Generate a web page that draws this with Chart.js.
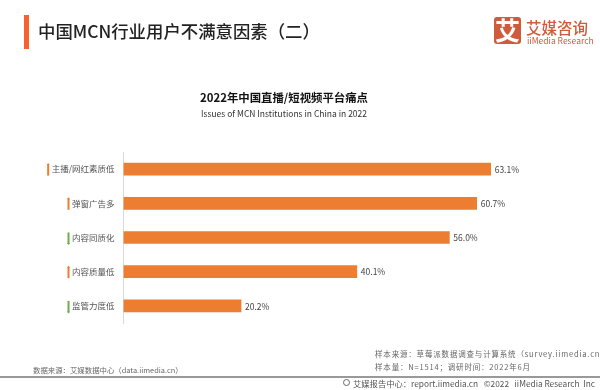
<!DOCTYPE html>
<html>
<head>
<meta charset="utf-8">
<script src="https://cdn.jsdelivr.net/npm/chart.js@4/dist/chart.umd.min.js"></script>
<style>
    html, body { margin: 0; padding: 0; background: #fff; }
    body { width: 600px; height: 390px; position: relative; overflow: hidden; font-family: "Noto Sans CJK SC", "Noto Sans", sans-serif; }
    #chart { position: absolute; left: 0; top: 0; }
    .txt { position: absolute; white-space: nowrap; line-height: 1; }
    .box { position: absolute; }
</style>
</head>
<body>
<canvas id="chart" width="600" height="390"></canvas>

<div class="box" style="left:24px;top:15px;width:5px;height:34px;background:#fb6130"></div>
<div class="txt" style="left:38px;top:22px;font-size:17.4px;font-weight:500;color:#222">中国MCN行业用户不满意因素（二）</div>

<div class="box" style="left:494px;top:17px;width:27px;height:27px;background:#d05a3c;border-radius:3px"></div>
<div class="txt" style="left:495px;top:17px;width:25px;text-align:center;font-size:25px;font-weight:700;color:#fff">艾</div>
<div class="txt" style="left:526px;top:20px;font-size:15.5px;font-weight:500;color:#d05a3c">艾媒咨询</div>
<div class="txt" style="left:527px;top:36px;font-size:8.5px;color:#d05a3c">iiMedia Research</div>

<div class="txt" style="left:0;width:568px;text-align:center;top:92px;font-size:11.4px;font-weight:700;color:#111">2022年中国直播/短视频平台痛点</div>
<div class="txt" style="left:0;width:568px;text-align:center;top:109px;font-size:8.5px;color:#333">Issues of MCN Institutions in China in 2022</div>

<div class="txt" style="left:33px;top:366px;font-size:7.4px;color:#666">数据来源：艾媒数据中心（data.iimedia.cn）</div>
<div class="txt" style="left:375px;top:350px;font-size:7.5px;letter-spacing:.82px;color:#666">样本来源：草莓派数据调查与计算系统（survey.iimedia.cn</div>
<div class="txt" style="left:375px;top:363px;font-size:7.5px;letter-spacing:.82px;color:#666">样本量：N=1514；调研时间：2022年6月</div>
<div class="box" style="left:0;top:376px;width:600px;height:1.5px;background:#999"></div>
<div class="box" style="left:343px;top:379px;width:5px;height:5px;border:1.5px solid #666;border-radius:50%"></div>
<div class="txt" style="left:353px;top:378.5px;font-size:8.3px;color:#555">艾媒报告中心：report.iimedia.cn&nbsp;&nbsp;&nbsp;©2022&nbsp;&nbsp;&nbsp;iiMedia Research&nbsp;&nbsp;Inc</div>

<script>
const categories = ['主播/网红素质低', '弹窗广告多', '内容同质化', '内容质量低', '监管力度低'];
const values = [63.1, 60.7, 56.0, 40.1, 20.2];
const trends = ['up', 'up', 'down', 'up', 'down'];

const labelFont = '8.5px "Noto Sans CJK SC"';

// Value labels at the bar ends and the small arrows next to the category names
const barExtras = {
    id: 'barExtras',
    afterDatasetsDraw(chart) {
        const ctx = chart.ctx;
        const yScale = chart.scales.y;
        ctx.save();
        chart.getDatasetMeta(0).data.forEach((bar, i) => {
            ctx.font = labelFont;
            ctx.fillStyle = '#444';
            ctx.textAlign = 'left';
            ctx.textBaseline = 'middle';
            ctx.fillText(values[i].toFixed(1) + '%', bar.x + 4, bar.y + 0.5);

            const w = ctx.measureText(categories[i]).width;
            const x = yScale.right - 9 - w - 3.5;
            const top = bar.y - 6;
            const bottom = bar.y + 6.5;
            const color = trends[i] === 'up' ? '#ed7d31' : '#70ad47';
            ctx.fillStyle = color;
            ctx.fillRect(x - 1, top + 1, 2, bottom - top - 1);
            const tip = trends[i] === 'up' ? top : bottom + 1;
            const base = trends[i] === 'up' ? top + 2 : bottom - 1;
            ctx.beginPath();
            ctx.moveTo(x, tip);
            ctx.lineTo(x - 1.5, base);
            ctx.lineTo(x + 1.5, base);
            ctx.closePath();
            ctx.fill();
        });
        ctx.restore();
    }
};

new Chart(document.getElementById('chart'), {
    type: 'bar',
    data: {
        labels: categories,
        datasets: [{
            data: values,
            backgroundColor: '#ed7d31',
            barThickness: 12
        }]
    },
    options: {
        indexAxis: 'y',
        responsive: false,
        animation: false,
        layout: { padding: { top: 152, bottom: 67, right: 11 } },
        plugins: { legend: { display: false }, tooltip: { enabled: false } },
        scales: {
            x: {
                display: false,
                min: 0,
                max: 80
            },
            y: {
                afterFit(scale) { scale.width = 123.5; },
                grid: { display: false, drawTicks: false },
                border: { color: '#d9d9d9', width: 1 },
                ticks: {
                    padding: 9,
                    color: '#555',
                    font: { family: '"Noto Sans CJK SC"', size: 8.5 }
                }
            }
        }
    },
    plugins: [barExtras]
});
</script>
</body>
</html>
